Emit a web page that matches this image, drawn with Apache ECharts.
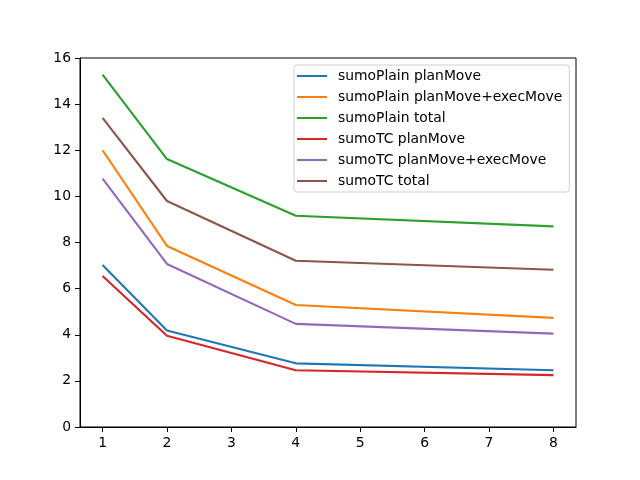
<!DOCTYPE html>
<html>
<head>
<meta charset="utf-8">
<script src="https://cdn.jsdelivr.net/npm/echarts@6/dist/echarts.min.js"></script>
<style>
    html, body { margin: 0; padding: 0; background: #fff; }
    #chart { width: 640px; height: 480px; }
</style>
</head>
<body>
<div id="chart"></div>
<script>
// x positions (number of threads / instances)
var xValues = [1, 2, 4, 8];
var xTicks = [1, 2, 3, 4, 5, 6, 7, 8];

// series values
var sumoPlainPlanMove = [7.02, 4.18, 2.76, 2.46];
var sumoPlainPlanExec = [12.0, 7.85, 5.29, 4.73];
var sumoPlainTotal = [15.28, 11.62, 9.16, 8.70];
var sumoTCPlanMove = [6.55, 3.96, 2.46, 2.25];
var sumoTCPlanExec = [10.77, 7.07, 4.47, 4.05];
var sumoTCTotal = [13.4, 9.8, 7.21, 6.82];

var names = [
    'sumoPlain planMove',
    'sumoPlain planMove+execMove',
    'sumoPlain total',
    'sumoTC planMove',
    'sumoTC planMove+execMove',
    'sumoTC total'
];
var colors = ['#1f77b4', '#ff7f0e', '#2ca02c', '#d62728', '#9467bd', '#8c564b'];
var values = [sumoPlainPlanMove, sumoPlainPlanExec, sumoPlainTotal,
              sumoTCPlanMove, sumoTCPlanExec, sumoTCTotal];

function pairs(ys) {
    return xValues.map(function (x, i) { return [x, ys[i]]; });
}

var font = 'DejaVu Sans';

var chart = echarts.init(document.getElementById('chart'));
var option = {
    animation: false,
    backgroundColor: '#fff',
    color: colors,
    grid: {
        left: 80, right: 64, top: 58, bottom: 53,
        show: true, borderColor: '#000', borderWidth: 1
    },
    legend: {
        orient: 'vertical',
        left: 294, top: 65,
        padding: [3, 7, 3, 3],
        itemWidth: 30, itemHeight: 2,
        itemGap: 5,
        icon: 'rect',
        borderColor: '#d0d0d0', borderWidth: 1, borderRadius: 3,
        backgroundColor: 'rgba(255,255,255,0.8)',
        textStyle: {
            fontFamily: font, fontSize: 13.9, color: '#000',
            lineHeight: 16, padding: [0, 0, 0, 6]
        },
        data: names
    },
    xAxis: {
        type: 'value',
        min: 0.65, max: 8.35,
        axisLine: { show: true, onZero: false, lineStyle: { color: '#000', width: 1 } },
        axisTick: { show: true, length: 5, customValues: xTicks, lineStyle: { color: '#000' } },
        axisLabel: { margin: 9, customValues: xTicks, fontFamily: font, fontSize: 13.9, color: '#000' },
        splitLine: { show: false }
    },
    yAxis: {
        type: 'value',
        min: 0, max: 16, interval: 2,
        axisLine: { show: true, lineStyle: { color: '#000', width: 1 } },
        axisTick: { show: true, length: 5, lineStyle: { color: '#000' } },
        axisLabel: { margin: 9, fontFamily: font, fontSize: 13.9, color: '#000' },
        splitLine: { show: false }
    },
    series: names.map(function (n, i) {
        return {
            name: n,
            type: 'line',
            data: pairs(values[i]),
            showSymbol: false,
            symbol: 'none',
            lineStyle: { width: 2.1, color: colors[i] },
            itemStyle: { color: colors[i] }
        };
    })
};
chart.setOption(option);
</script>
</body>
</html>
